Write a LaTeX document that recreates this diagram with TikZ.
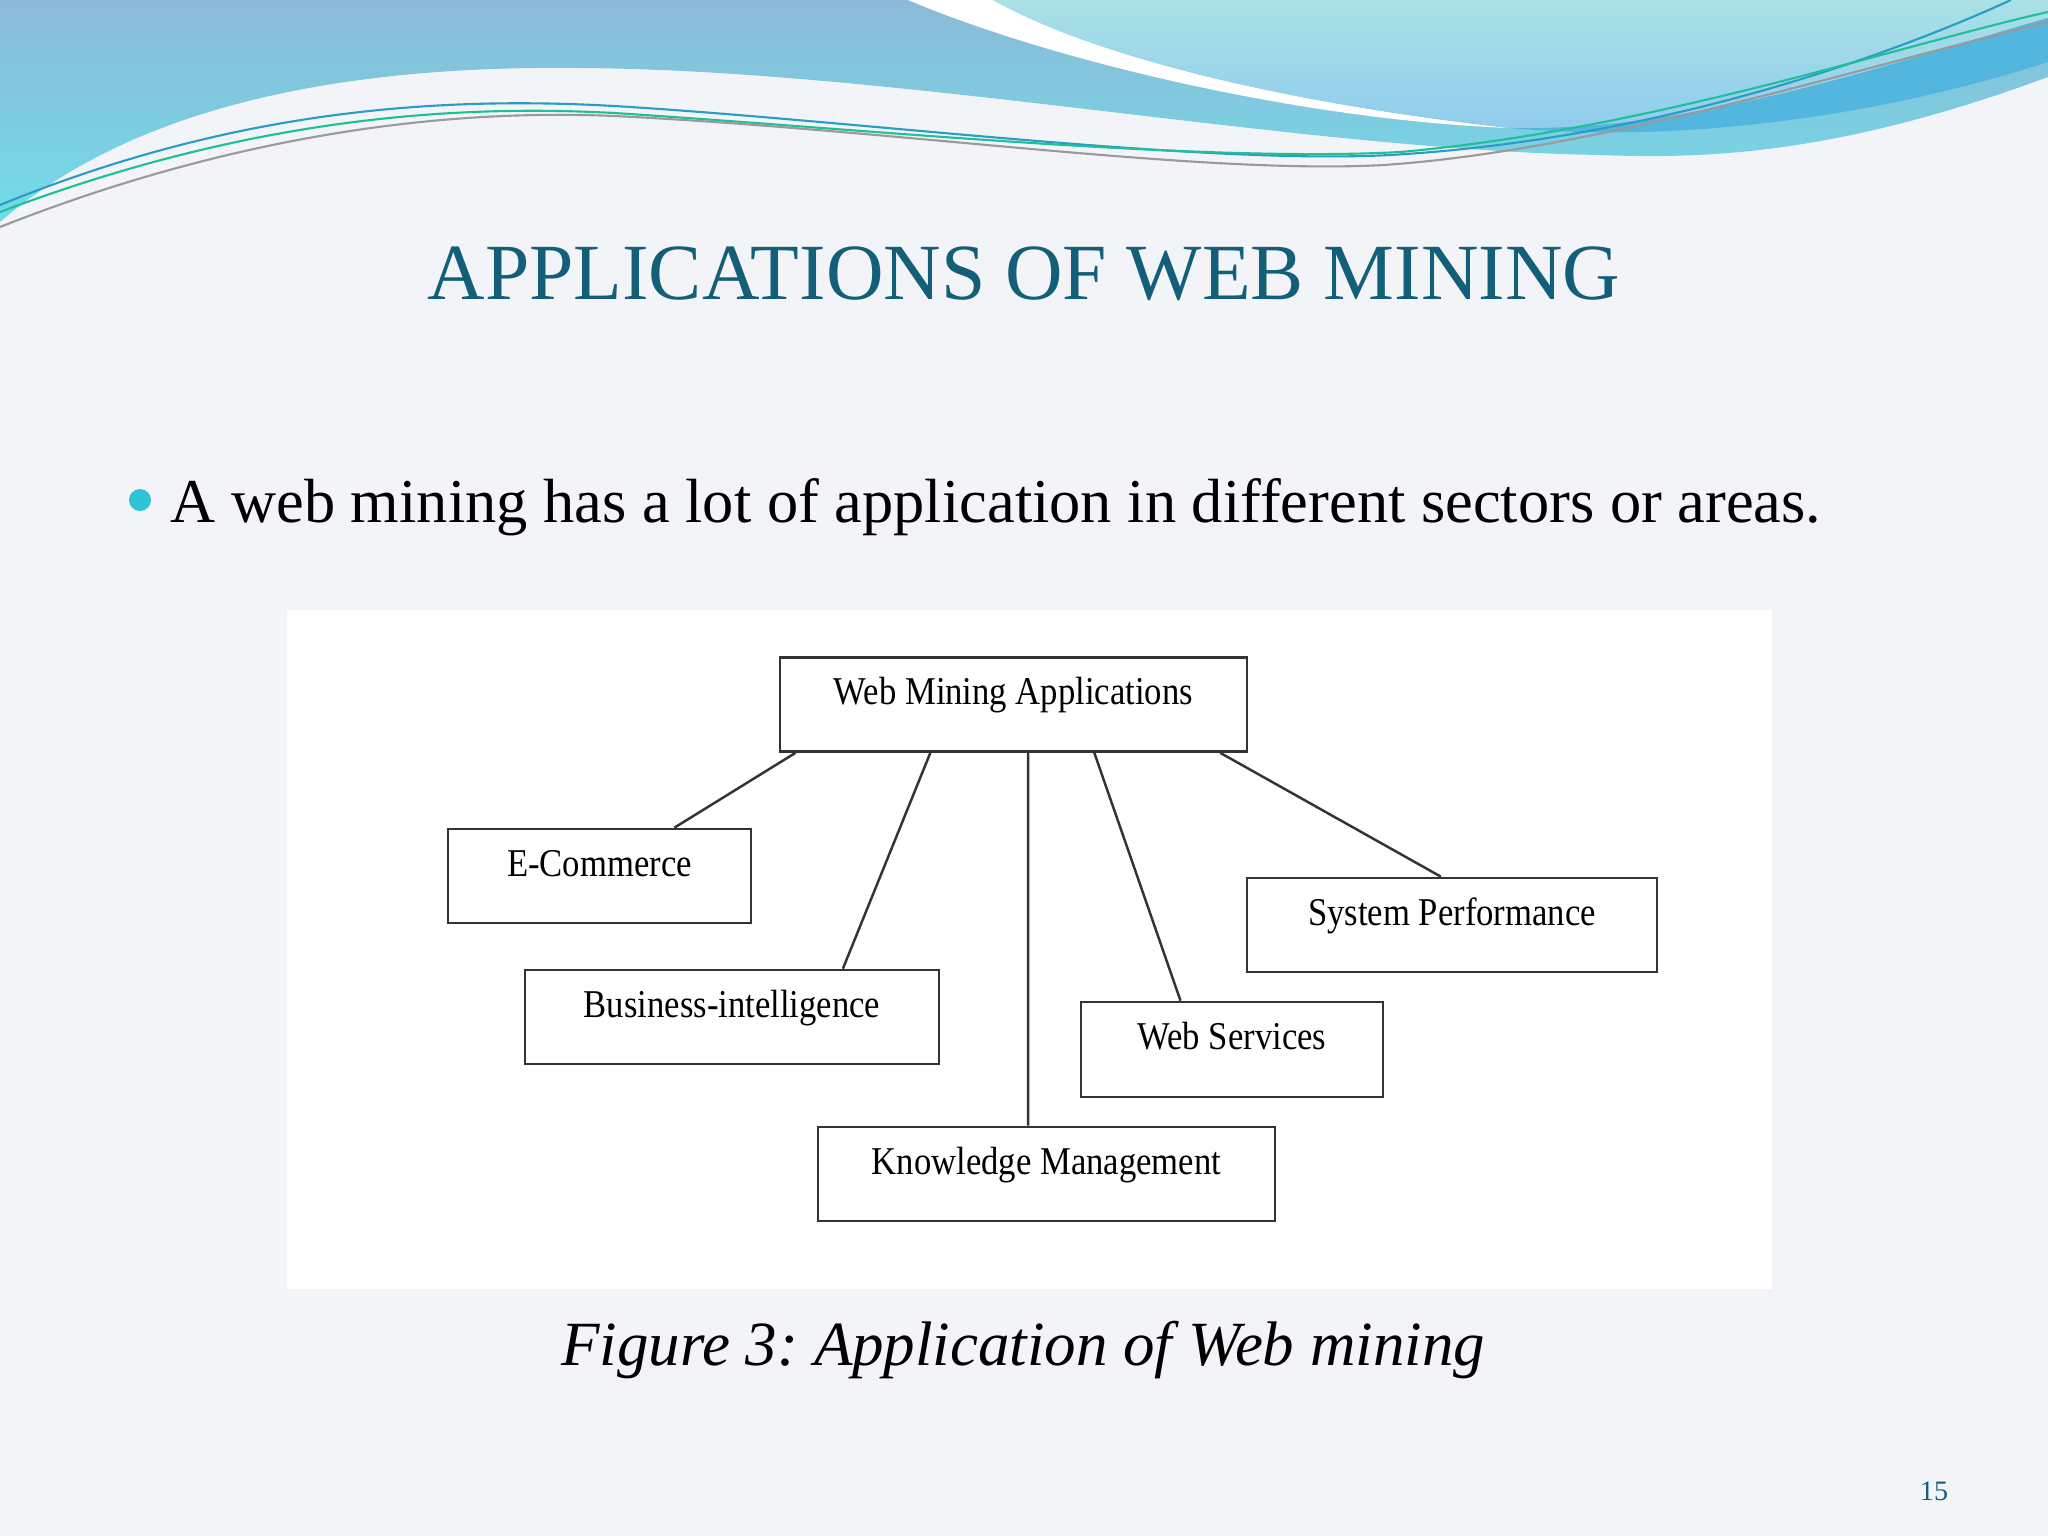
\documentclass[tikz,border=0pt]{standalone}
\usepackage{fontspec}
\setmainfont{Liberation Serif}
\newfontfamily\figfont[FakeStretch=0.88]{Liberation Serif}
\usepackage{xcolor}
\usepackage{tikz}
\usetikzlibrary{calc}
\usetikzlibrary{positioning}

\definecolor{slidebg}{HTML}{F3F4F7}
\definecolor{titleteal}{HTML}{135F7A}
\definecolor{bulletcyan}{HTML}{2EC3D5}
\definecolor{wavetop}{HTML}{8BBAD8}
\definecolor{wavebot}{HTML}{72DCE8}
\definecolor{capetop}{HTML}{A9E1E5}
\definecolor{capebot}{HTML}{8FCBEE}
\definecolor{ribbon}{HTML}{53B6DE}
\definecolor{boxline}{HTML}{333333}
\definecolor{lineblue}{HTML}{2A9CC8}
\definecolor{linegreen}{HTML}{1FBF9A}
\definecolor{linegray}{HTML}{9A9A9A}

\frenchspacing
\tikzset{
  appbox/.style={draw=boxline, line width=0.75pt, fill=white, inner sep=2pt,
    font=\figfont\fontsize{11.2}{13}\selectfont,
    text height=11pt, text depth=11pt},
  link/.style={draw=boxline, line width=0.7pt}
}

\begin{document}
\begin{tikzpicture}[x=0.01cm, y=-0.01cm]
  \useasboundingbox (0,0) rectangle (2048,1536);
  \fill[slidebg] (0,0) rectangle (2048,1536);

  % header waves
  \shade[top color=wavetop, bottom color=wavebot]
    (0,0) -- (2048,0) -- (2048,77)
    .. controls (1850,150) and (1720,160) .. (1600,155)
    .. controls (1300,150) and (900,70) .. (580,68)
    .. controls (330,65) and (130,110) .. (0,222) -- cycle;
  \fill[white] (908,0) .. controls (1050,60) and (1300,120) .. (1510,128)
    .. controls (1300,105) and (1100,60) .. (993,0) -- cycle;
  \shade[top color=capetop, bottom color=capebot]
    (993,0) .. controls (1100,60) and (1300,105) .. (1510,128)
    .. controls (1700,135) and (1900,60) .. (2048,18) -- (2048,0) -- cycle;
  \fill[ribbon] (1510,128) .. controls (1700,132) and (1900,60) .. (2048,18)
    -- (2048,62) .. controls (1900,110) and (1700,145) .. (1510,128) -- cycle;
  \draw[lineblue, line width=0.6pt] (0,205) .. controls (220,115) and (420,95) .. (614,106)
    .. controls (850,120) and (1200,165) .. (1390,155)
    .. controls (1650,140) and (1880,60) .. (2011,0);
  \draw[linegreen, line width=0.6pt] (0,212) .. controls (230,125) and (430,103) .. (614,113)
    .. controls (850,128) and (1200,163) .. (1400,152)
    .. controls (1650,130) and (1900,45) .. (2048,12);
  \draw[linegray, line width=0.6pt] (0,227) .. controls (220,140) and (430,108) .. (614,116)
    .. controls (900,130) and (1200,175) .. (1384,165)
    .. controls (1600,150) and (1850,70) .. (2048,22);

  % title and text
  \node[anchor=base, text=titleteal, font=\fontsize{22.65}{26}\selectfont] (title) at (1024,299)
    {APPLICATIONS OF WEB MINING};
  \fill[bulletcyan] (140,500) circle (11);
  \node[anchor=base west, inner sep=0pt, font=\fontsize{17.75}{22}\selectfont] (intro) at (170,522)
    {A web mining has a lot of application in different sectors or areas.};

  % figure
  \fill[white] (287,610) rectangle (1772,1289);
  \node[appbox, minimum width=4.67cm, minimum height=0.94cm] (wma) at (1013.5,704.5) {Web Mining Applications};
  \node[appbox, minimum width=3.03cm, minimum height=0.94cm] (ecom) at (599.5,876) {E-Commerce};
  \node[appbox, minimum width=4.14cm, minimum height=0.94cm] (bi) at (732,1017) {Business-intelligence};
  \node[appbox, minimum width=4.57cm, minimum height=0.94cm] (km) at (1046.5,1174) {Knowledge Management};
  \node[appbox, minimum width=3.02cm, minimum height=0.95cm] (ws) at (1232,1049.5) {Web Services};
  \node[appbox, minimum width=4.10cm, minimum height=0.94cm] (sp) at (1452,925) {System Performance};

  \draw[link] ($(wma.south west)!0.036!(wma.south east)$) -- ($(ecom.north west)!0.745!(ecom.north east)$);
  \draw[link] ($(wma.south west)!0.323!(wma.south east)$) -- ($(bi.north west)!0.766!(bi.north east)$);
  \draw[link] ($(wma.south west)!0.531!(wma.south east)$) -- ($(km.north west)!0.46!(km.north east)$);
  \draw[link] ($(wma.south west)!0.672!(wma.south east)$) -- ($(ws.north west)!0.331!(ws.north east)$);
  \draw[link] ($(wma.south west)!0.940!(wma.south east)$) -- ($(sp.north west)!0.473!(sp.north east)$);

  \node[anchor=base, font=\itshape\fontsize{17.9}{22}\selectfont] (caption) at (1023,1365)
    {Figure 3: Application of Web mining};
  \node[anchor=base, text=titleteal, font=\fontsize{8}{10}\selectfont] (pagenum) at (1934,1500) {15};
\end{tikzpicture}
\end{document}
